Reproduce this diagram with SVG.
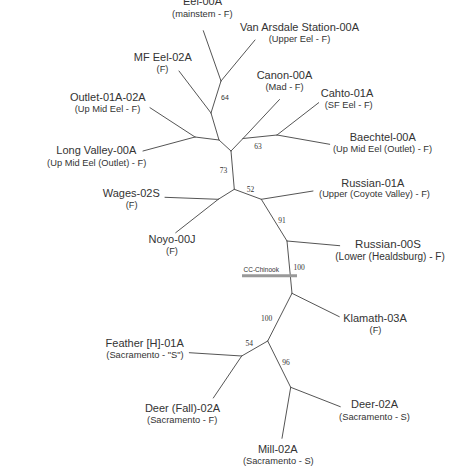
<svg xmlns="http://www.w3.org/2000/svg" width="474" height="474" viewBox="0 0 474 474">
<style>
.e{stroke:#555;stroke-width:1;fill:none;stroke-linecap:round}
.t{font-family:"Liberation Sans",Arial,sans-serif;font-size:11px;fill:#333;text-anchor:middle}
.s{font-family:"Liberation Sans",Arial,sans-serif;font-size:9.3px;fill:#333;text-anchor:middle}
.b{font-family:"Liberation Serif","Times New Roman",serif;font-size:7.5px;fill:#333;text-anchor:middle}
</style>
<rect width="474" height="474" fill="#fff"/>
<g id="connectors">
<path class="e" d="M203.3,30.7L221,81"/>
<path class="e" d="M255,40L221,81"/>
<path class="e" d="M221,81L211,113"/>
<path class="e" d="M179,71L211,113"/>
<path class="e" d="M211,113L219,140"/>
<path class="e" d="M150,107.7L195,137"/>
<path class="e" d="M143,151L195,137"/>
<path class="e" d="M195,137L219,140"/>
<path class="e" d="M219,140L231,151"/>
<path class="e" d="M231,151L243,138.5"/>
<path class="e" d="M243,138.5L279.5,99.5"/>
<path class="e" d="M243,138.5L277,135"/>
<path class="e" d="M277,135L318.7,102.7"/>
<path class="e" d="M277,135L329.7,144.3"/>
<path class="e" d="M231,151L234.3,189.3"/>
<path class="e" d="M234.3,189.3L218.3,199.3"/>
<path class="e" d="M165,197.3L218.3,199.3"/>
<path class="e" d="M175.7,232.7L218.3,199.3"/>
<path class="e" d="M234.3,189.3L261.3,199.3"/>
<path class="e" d="M261.3,199.3L313,191"/>
<path class="e" d="M261.3,199.3L287,241"/>
<path class="e" d="M287,241L339.7,245.7"/>
<path class="e" d="M287,241L292,293.3"/>
<path class="e" d="M292,293.3L339.3,316.7"/>
<path class="e" d="M292,293.3L267.7,341"/>
<path class="e" d="M267.7,341L241.7,356"/>
<path class="e" d="M241.7,356L189.3,352.7"/>
<path class="e" d="M241.7,356L213.3,398"/>
<path class="e" d="M267.7,341L290.7,387.3"/>
<path class="e" d="M290.7,387.3L340.3,406.7"/>
<path class="e" d="M290.7,387.3L282,438.3"/>
<path d="M242,275.7L297,275.7" stroke="#999" stroke-width="3"/>
</g>
<g id="bootstrap">
<text x="225" y="99.5" class="b" style="font-family:'Liberation Sans',Arial,sans-serif;font-size:7px">64</text>
<text x="258" y="148.5" class="b">63</text>
<text x="223.5" y="173" class="b">73</text>
<text x="250.5" y="191.5" class="b">52</text>
<text x="282" y="222.5" class="b">91</text>
<text x="299" y="270" class="b">100</text>
<text x="266.7" y="321" class="b">100</text>
<text x="249.3" y="346" class="b">54</text>
<text x="286" y="364.5" class="b">96</text>
</g>
<g id="cc-chinook">
<text x="243.5" y="271.5" style="font-family:'Liberation Sans',Arial,sans-serif;font-size:6.5px;fill:#333">CC-Chinook</text>
</g>
<g id="n-eel00a"><text x="202.5" y="5" class="t">Eel-00A</text><text x="202.3" y="17.3" class="s">(mainstem - F)</text></g>
<g id="n-vanarsdale"><text x="299.5" y="30.7" class="t">Van Arsdale Station-00A</text><text x="299.5" y="41.7" class="s">(Upper Eel - F)</text></g>
<g id="n-mfeel"><text x="162.8" y="61" class="t">MF Eel-02A</text><text x="162.5" y="72.3" class="s">(F)</text></g>
<g id="n-outlet"><text x="107.8" y="101" class="t">Outlet-01A-02A</text><text x="107.5" y="111.7" class="s">(Up Mid Eel - F)</text></g>
<g id="n-longvalley"><text x="96.3" y="154.3" class="t">Long Valley-00A</text><text x="96.7" y="165.5" class="s">(Up Mid Eel (Outlet) - F)</text></g>
<g id="n-canon"><text x="284.5" y="79" class="t">Canon-00A</text><text x="284.5" y="90" class="s">(Mad - F)</text></g>
<g id="n-cahto"><text x="347" y="96.7" class="t">Cahto-01A</text><text x="348.7" y="107.7" class="s">(SF Eel - F)</text></g>
<g id="n-baechtel"><text x="382.8" y="140.7" class="t">Baechtel-00A</text><text x="382.5" y="151.7" class="s">(Up Mid Eel (Outlet) - F)</text></g>
<g id="n-wages"><text x="131.3" y="196.7" class="t">Wages-02S</text><text x="131.7" y="207.7" class="s">(F)</text></g>
<g id="n-noyo"><text x="172" y="243.3" class="t">Noyo-00J</text><text x="172" y="254.3" class="s">(F)</text></g>
<g id="n-russian01a"><text x="372.8" y="186.7" class="t">Russian-01A</text><text x="374.5" y="197.3" class="s">(Upper (Coyote Valley) - F)</text></g>
<g id="n-russian00s"><text x="388" y="247.7" class="t" style="font-size:11.5px">Russian-00S</text><text x="390" y="260" class="s" style="font-size:10px">(Lower (Healdsburg) - F)</text></g>
<g id="n-klamath"><text x="375" y="321.7" class="t">Klamath-03A</text><text x="375.5" y="333.3" class="s">(F)</text></g>
<g id="n-feather"><text x="144.7" y="347.3" class="t">Feather [H]-01A</text><text x="145" y="358.3" class="s">(Sacramento - "S")</text></g>
<g id="n-deerfall"><text x="182.5" y="411.7" class="t">Deer (Fall)-02A</text><text x="182.2" y="422.7" class="s">(Sacramento - F)</text></g>
<g id="n-deer02a"><text x="374.5" y="408.3" class="t">Deer-02A</text><text x="374.5" y="420" class="s">(Sacramento - S)</text></g>
<g id="n-mill"><text x="277.8" y="452.7" class="t">Mill-02A</text><text x="278.3" y="464" class="s">(Sacramento - S)</text></g>
</svg>
